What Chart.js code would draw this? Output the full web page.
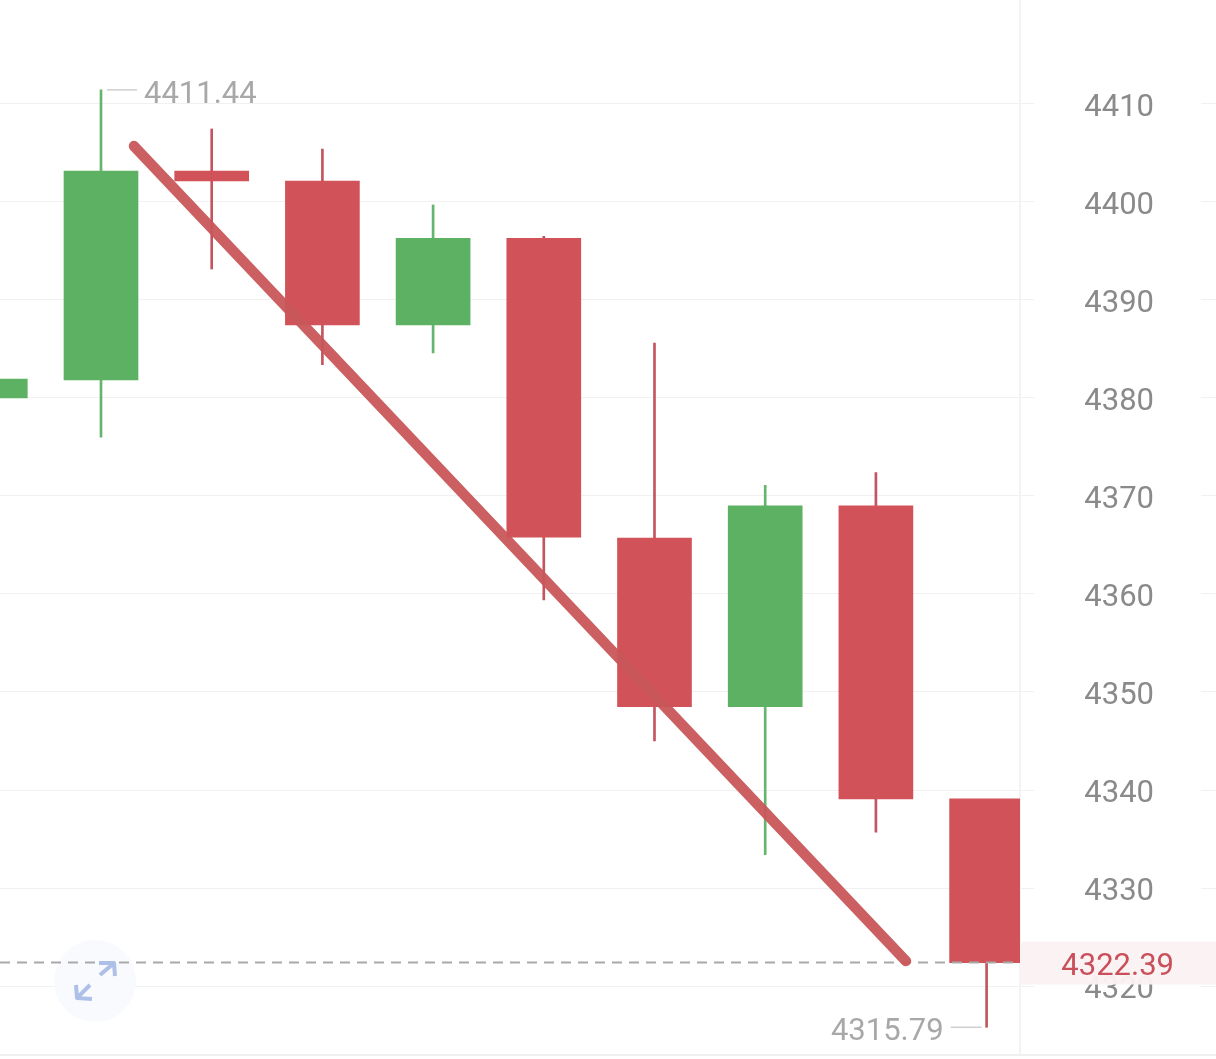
<!DOCTYPE html>
<html>
<head>
<meta charset="utf-8">
<title>K-line</title>
<script src="https://cdn.jsdelivr.net/npm/chart.js@4"></script>
<style>
  html, body { margin: 0; padding: 0; background: #fff; overflow: hidden; }
  canvas { display: block; }
</style>
</head>
<body>
<canvas id="klineChart" width="1216" height="1059"></canvas>
<script>
// candles, first one is mostly scrolled off the left edge
const slots  = [0, 1, 2, 3, 4, 5, 6, 7, 8, 9];
const opens  = [4380.0, 4381.84, 4403.16, 4402.14, 4387.45, 4396.3, 4365.7, 4348.5, 4369.0, 4339.1];
const closes = [4381.94, 4403.16, 4402.14, 4387.45, 4396.3, 4365.8, 4348.5, 4369.0, 4339.1, 4322.39];
const highs  = [4381.94, 4411.44, 4407.45, 4405.4, 4399.7, 4396.5, 4385.6, 4371.1, 4372.4, 4339.0];
const lows   = [4380.0, 4376.0, 4393.16, 4383.4, 4384.6, 4359.4, 4345.0, 4333.4, 4335.7, 4315.79];

const priceTicks = [4320, 4330, 4340, 4350, 4360, 4370, 4380, 4390, 4400, 4410];

const trendX = [1.298, 8.272];
const trendY = [4405.7, 4322.55];

const lastPrice = 4322.39;
const highLabel = { slot: 1, price: 4411.44 };
const lowLabel  = { slot: 9, price: 4315.79 };

const GREEN = '#5cb163';
const RED = '#d25259';
const GREEN_WICK = '#66b56d';
const RED_WICK = '#c2555f';
const FONT = 'Roboto, "Open Sans", sans-serif';

const isUp = i => closes[i] >= opens[i];
const noRightOverflow = { left: 0, top: 0, right: -196, bottom: 0 }; // candles stop at the axis strip

const overlayPlugin = {
  id: 'overlay',
  beforeDatasetsDraw(chart) {
    const { ctx, chartArea } = chart;
    const x = chart.scales.x.getPixelForValue(9.3018);
    ctx.save();
    // separator between plot and price strip
    ctx.strokeStyle = '#f3f3f3';
    ctx.lineWidth = 2;
    ctx.beginPath();
    ctx.moveTo(x, chartArea.top);
    ctx.lineTo(x, chartArea.bottom);
    ctx.stroke();

    // round expand button
    ctx.fillStyle = '#f8fafe';
    ctx.beginPath();
    ctx.arc(95, 981, 41, 0, Math.PI * 2);
    ctx.fill();
    ctx.restore();
  },
  afterDatasetsDraw(chart) {
    const { ctx, scales } = chart;
    const sx = scales.x, sy = scales.y;
    ctx.save();

    // expand icon arrows
    ctx.strokeStyle = '#afc0e8';
    ctx.lineWidth = 4;
    ctx.lineJoin = 'round';
    ctx.beginPath();
    ctx.moveTo(100, 975); ctx.lineTo(114, 963);
    ctx.moveTo(99, 963); ctx.lineTo(114, 963); ctx.lineTo(115, 976);
    ctx.moveTo(90, 985); ctx.lineTo(77, 998);
    ctx.moveTo(76, 985); ctx.lineTo(77, 998); ctx.lineTo(92, 999);
    ctx.stroke();

    // high / low labels with their little leader lines
    ctx.font = '31px ' + FONT;
    ctx.fillStyle = '#a8a8a8';
    ctx.textBaseline = 'middle';
    ctx.strokeStyle = '#cfcfcf';
    ctx.lineWidth = 1.5;

    const hx = sx.getPixelForValue(highLabel.slot), hy = sy.getPixelForValue(highLabel.price);
    ctx.beginPath();
    ctx.moveTo(hx + 6, hy);
    ctx.lineTo(hx + 36, hy);
    ctx.stroke();
    ctx.textAlign = 'left';
    ctx.fillText(highLabel.price.toFixed(2), hx + 43, hy + 5);

    const lx = sx.getPixelForValue(lowLabel.slot), ly = sy.getPixelForValue(lowLabel.price);
    ctx.beginPath();
    ctx.moveTo(lx - 36, ly);
    ctx.lineTo(lx - 5, ly);
    ctx.stroke();
    ctx.textAlign = 'right';
    ctx.fillText(lowLabel.price.toFixed(2), lx - 43, ly + 5);

    // last price tag over the strip
    const py = sy.getPixelForValue(lastPrice);
    const tagLeft = sx.getPixelForValue(9.3018);
    ctx.fillStyle = 'rgba(251, 243, 243, 0.96)';
    ctx.fillRect(tagLeft, py - 21, chart.width - tagLeft, 43);
    ctx.fillStyle = '#c9505a';
    ctx.textAlign = 'right';
    ctx.fillText(lastPrice.toFixed(2), 1174, py + 5);
    ctx.restore();
  }
};

new Chart(document.getElementById('klineChart'), {
  type: 'bar',
  data: {
    datasets: [{
      type: 'line',
      label: 'trend',
      data: trendX.map((x, i) => ({ x: x, y: trendY[i] })),
      borderColor: 'rgba(200, 86, 90, 0.95)',
      borderWidth: 10.5,
      borderCapStyle: 'round',
      pointRadius: 0,
      order: 1
    }, {
      type: 'line',
      label: 'last price',
      data: [{ x: 0.08763, y: lastPrice }, { x: 9.3018, y: lastPrice }],
      borderColor: '#a9a9a9',
      borderWidth: 2,
      borderDash: [10, 7],
      pointRadius: 0,
      order: 2
    }, {
      label: 'body',
      data: slots.map(i => ({ x: i, y: [opens[i], closes[i]] })),
      backgroundColor: slots.map(i => isUp(i) ? GREEN : RED),
      barThickness: 74,
      grouped: false,
      clip: noRightOverflow,
      order: 3
    }, {
      label: 'wick',
      data: slots.map(i => ({ x: i, y: [lows[i], highs[i]] })),
      backgroundColor: slots.map(i => isUp(i) ? GREEN_WICK : RED_WICK),
      barThickness: 2,
      grouped: false,
      clip: noRightOverflow,
      order: 4
    }]
  },
  options: {
    responsive: false,
    animation: false,
    layout: { autoPadding: false, padding: { left: 0, right: 0, top: 0, bottom: 4 } },
    plugins: { legend: { display: false }, tooltip: { enabled: false } },
    scales: {
      x: {
        type: 'linear',
        offset: false,
        min: 0.08763,
        max: 11.0723,
        ticks: { display: false },
        grid: { display: false, drawTicks: false, offset: false },
        border: { display: true, color: '#efefef', width: 2 }
      },
      y: {
        type: 'linear',
        position: 'right',
        min: 4312.96,
        max: 4420.61,
        afterBuildTicks(axis) {
          axis.ticks = priceTicks.map(v => ({ value: v }));
        },
        // labels sit inside the plot, so the axis itself takes no room
        afterFit(axis) {
          axis.width = 0;
          axis.paddingTop = 0;
          axis.paddingBottom = 0;
        },
        grid: { color: '#f1f1f1', lineWidth: 1, drawTicks: false },
        border: { display: false },
        ticks: {
          mirror: true,
          padding: -62,
          color: '#8a8a8a',
          font: { family: FONT, size: 31, lineHeight: 0.26 },
          // empty first line drops the digits a few px below their gridline
          callback: v => ['', String(v)],
          showLabelBackdrop: true,
          backdropColor: '#ffffff',
          backdropPadding: { left: 50, right: 47, top: 0, bottom: 0 }
        }
      }
    }
  },
  plugins: [overlayPlugin]
});
</script>
</body>
</html>
